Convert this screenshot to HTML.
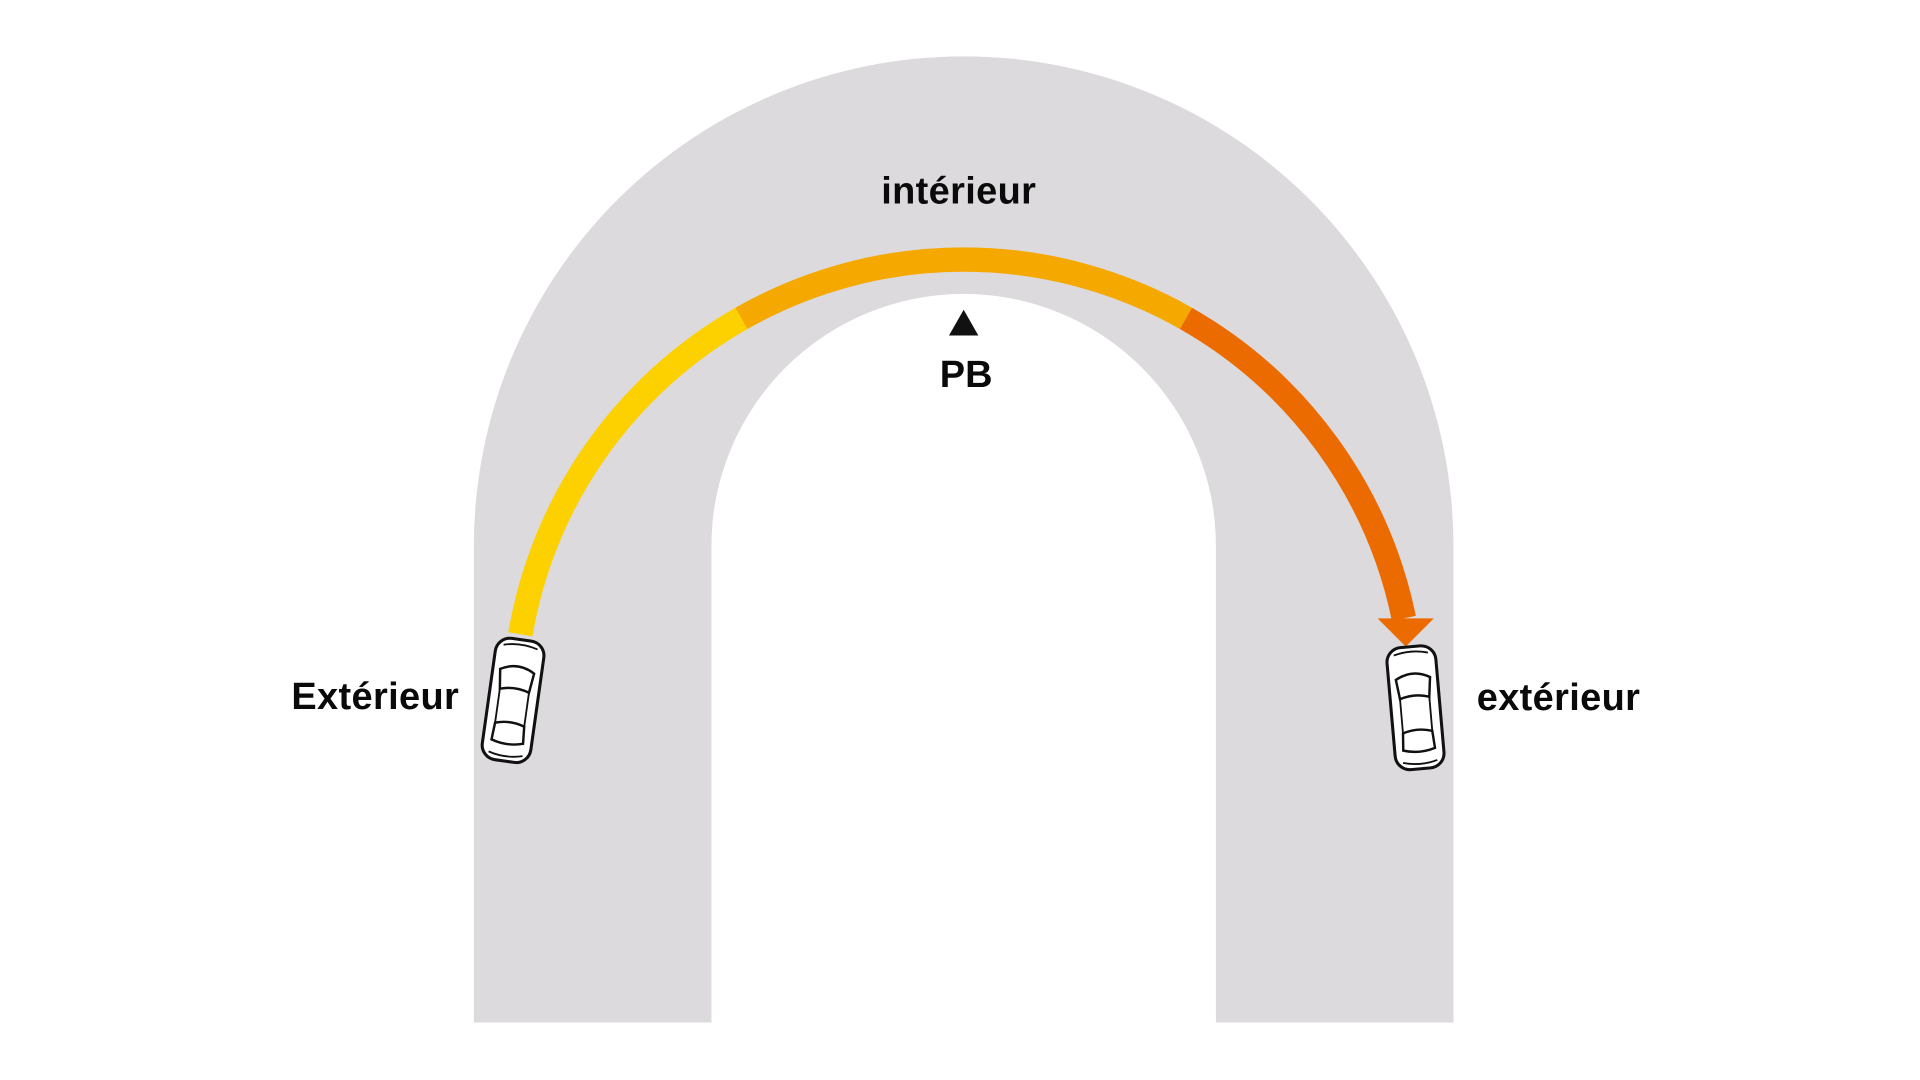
<!DOCTYPE html>
<html><head><meta charset="utf-8"><style>
html,body{margin:0;padding:0;background:#fff;width:1920px;height:1080px;overflow:hidden}
svg{display:block}
text{font-family:"Liberation Sans",Arial,sans-serif;font-weight:bold;fill:#0a0a0a}
</style></head><body>
<svg width="1920" height="1080" viewBox="0 0 1568 882" xmlns="http://www.w3.org/2000/svg">
<defs>
<g id="car" fill="#fff" stroke="#111" stroke-width="2.5">
<rect x="-20" y="-50" width="40" height="100" rx="12"/>
<path d="M-14 -24 Q0 -32 14 -24 L12 -8 Q0 -12 -12 -8 Z" stroke-width="2"/>
<path d="M-12 20 Q0 16 12 20 L13 34 Q0 38 -13 34 Z" stroke-width="2"/>
<line x1="-12" y1="-8" x2="-12" y2="20" stroke-width="1.5"/>
<line x1="12" y1="-8" x2="12" y2="20" stroke-width="1.5"/>
<path d="M-14 -44 Q0 -48 14 -44" stroke-width="1.5" fill="none"/>
<path d="M-14 44 Q0 48 14 44" stroke-width="1.5" fill="none"/>
</g>
</defs>
<path d="M387 835 L387 446 A400 400 0 0 1 1187 446 L1187 835 L993 835 L993 446 A206 206 0 0 0 581 446 L581 835 Z" fill="#dddadd"/>
<g fill="none" stroke-width="20">
<path d="M425 518 A367 367 0 0 1 605.5 260" stroke="#fdd000"/>
<path d="M605.5 260 A367 367 0 0 1 968.5 260" stroke="#f5a800"/>
<path d="M968.5 260 A367 367 0 0 1 1146.5 505" stroke="#ec6b00"/>
</g>
<polygon points="1125,505 1171,505 1148,528" fill="#ec6b00"/>
<polygon points="787,253 775,274 799,274" fill="#111"/>
<text x="783" y="166" font-size="31" letter-spacing="0.3" text-anchor="middle">intérieur</text>
<text x="789" y="316" font-size="31" text-anchor="middle">PB</text>
<text x="375" y="579" font-size="31" letter-spacing="0.3" text-anchor="end">Extérieur</text>
<text x="1206" y="580" font-size="31" letter-spacing="0.3">extérieur</text>
<use href="#car" transform="translate(419 572) rotate(8)"/>
<use href="#car" transform="translate(1156 578) rotate(-5)"/>
</svg>
</body></html>
